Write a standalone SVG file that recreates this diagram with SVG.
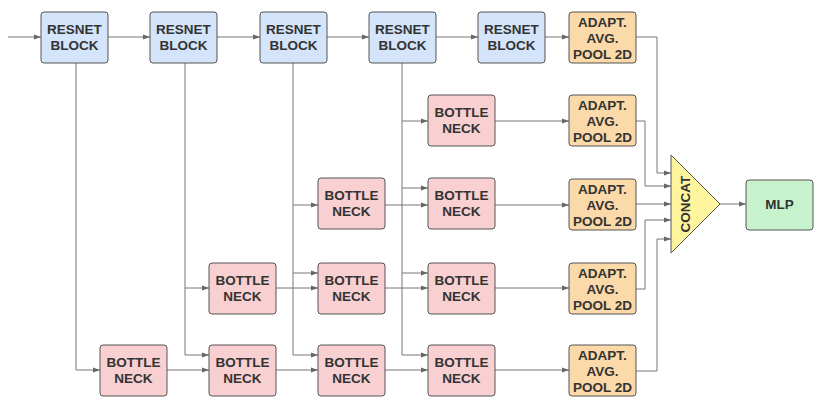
<svg xmlns="http://www.w3.org/2000/svg" width="825" height="408" viewBox="0 0 825 408">
<defs>
<marker id="a" markerWidth="8" markerHeight="6" refX="7" refY="3" orient="auto" markerUnits="userSpaceOnUse"><path d="M0,0.5 L7,3 L0,5.5 z" fill="#666"/></marker>
<style>
.b{stroke:#555;stroke-width:1}
.r{fill:#d3e4fb}.n{fill:#f8d0d1}.p{fill:#fbd9a8}.m{fill:#c6f3cc}
text{font-family:"Liberation Sans",Arial,sans-serif;font-weight:bold;font-size:13.5px;fill:#333;text-anchor:middle}
.c path{fill:none;stroke:#777;stroke-width:1;marker-end:url(#a)}
</style>
</defs>
<rect width="825" height="408" fill="#fff"/>
<g class="c">
<path d="M8,37H41"/><path d="M108,37H150"/><path d="M217,37H260"/><path d="M327,37H369"/><path d="M436,37H478"/><path d="M545,37H569"/>
<path d="M76,63V370H100"/>
<path d="M185,63V288H209"/><path d="M185,288V355H209"/>
<path d="M167,370H209"/>
<path d="M293,63V205H318"/><path d="M293,205V273H318"/><path d="M293,273V355H318"/>
<path d="M276,288H318"/><path d="M276,370H318"/>
<path d="M402,63V121H428"/><path d="M402,121V188H428"/><path d="M402,188V273H428"/><path d="M402,273V355H428"/>
<path d="M385,205H428"/><path d="M385,288H428"/><path d="M385,370H428"/>
<path d="M495,121H569"/><path d="M495,205H569"/><path d="M495,288H569"/><path d="M495,370H569"/>
<path d="M636,37H657V173H671"/><path d="M636,121H645V186H671"/><path d="M636,204H671"/><path d="M636,289H645V220H671"/><path d="M636,371H657V239H671"/>
<path d="M720,204H746"/>
</g>
<g id="resnet1"><rect class="b r" x="41" y="12" width="67" height="51" rx="3"/><text x="74.5" y="34">RESNET</text><text x="74.5" y="50">BLOCK</text></g>
<g id="resnet2"><rect class="b r" x="150" y="12" width="67" height="51" rx="3"/><text x="183.5" y="34">RESNET</text><text x="183.5" y="50">BLOCK</text></g>
<g id="resnet3"><rect class="b r" x="260" y="12" width="67" height="51" rx="3"/><text x="293.5" y="34">RESNET</text><text x="293.5" y="50">BLOCK</text></g>
<g id="resnet4"><rect class="b r" x="369" y="12" width="67" height="51" rx="3"/><text x="402.5" y="34">RESNET</text><text x="402.5" y="50">BLOCK</text></g>
<g id="resnet5"><rect class="b r" x="478" y="12" width="67" height="51" rx="3"/><text x="511.5" y="34">RESNET</text><text x="511.5" y="50">BLOCK</text></g>
<g id="bn-1-4"><rect class="b n" x="428" y="95" width="67" height="51" rx="3"/><text x="461.5" y="117">BOTTLE</text><text x="461.5" y="133">NECK</text></g>
<g id="bn-2-3"><rect class="b n" x="318" y="178" width="67" height="51" rx="3"/><text x="351.5" y="200">BOTTLE</text><text x="351.5" y="216">NECK</text></g>
<g id="bn-2-4"><rect class="b n" x="428" y="178" width="67" height="51" rx="3"/><text x="461.5" y="200">BOTTLE</text><text x="461.5" y="216">NECK</text></g>
<g id="bn-3-2"><rect class="b n" x="209" y="263" width="67" height="51" rx="3"/><text x="242.5" y="285">BOTTLE</text><text x="242.5" y="301">NECK</text></g>
<g id="bn-3-3"><rect class="b n" x="318" y="263" width="67" height="51" rx="3"/><text x="351.5" y="285">BOTTLE</text><text x="351.5" y="301">NECK</text></g>
<g id="bn-3-4"><rect class="b n" x="428" y="263" width="67" height="51" rx="3"/><text x="461.5" y="285">BOTTLE</text><text x="461.5" y="301">NECK</text></g>
<g id="bn-4-1"><rect class="b n" x="100" y="345" width="67" height="51" rx="3"/><text x="133.5" y="367">BOTTLE</text><text x="133.5" y="383">NECK</text></g>
<g id="bn-4-2"><rect class="b n" x="209" y="345" width="67" height="51" rx="3"/><text x="242.5" y="367">BOTTLE</text><text x="242.5" y="383">NECK</text></g>
<g id="bn-4-3"><rect class="b n" x="318" y="345" width="67" height="51" rx="3"/><text x="351.5" y="367">BOTTLE</text><text x="351.5" y="383">NECK</text></g>
<g id="bn-4-4"><rect class="b n" x="428" y="345" width="67" height="51" rx="3"/><text x="461.5" y="367">BOTTLE</text><text x="461.5" y="383">NECK</text></g>
<g id="pool0"><rect class="b p" x="569" y="12" width="67" height="51" rx="3"/><text x="602.5" y="27">ADAPT.</text><text x="602.5" y="43">AVG.</text><text x="602.5" y="59">POOL 2D</text></g>
<g id="pool1"><rect class="b p" x="569" y="95" width="67" height="51" rx="3"/><text x="602.5" y="110">ADAPT.</text><text x="602.5" y="126">AVG.</text><text x="602.5" y="142">POOL 2D</text></g>
<g id="pool2"><rect class="b p" x="569" y="179" width="67" height="51" rx="3"/><text x="602.5" y="194">ADAPT.</text><text x="602.5" y="210">AVG.</text><text x="602.5" y="226">POOL 2D</text></g>
<g id="pool3"><rect class="b p" x="569" y="263" width="67" height="51" rx="3"/><text x="602.5" y="278">ADAPT.</text><text x="602.5" y="294">AVG.</text><text x="602.5" y="310">POOL 2D</text></g>
<g id="pool4"><rect class="b p" x="569" y="345" width="67" height="51" rx="3"/><text x="602.5" y="360">ADAPT.</text><text x="602.5" y="376">AVG.</text><text x="602.5" y="392">POOL 2D</text></g>
<g id="concat"><path class="b" d="M671,155L720,204L671,253Z" fill="#fff59e" stroke-linejoin="round"/><text transform="translate(685,204) rotate(-90)" y="5">CONCAT</text></g>
<g id="mlp"><rect class="b m" x="746" y="180" width="67" height="50" rx="3"/><text x="779.5" y="209">MLP</text></g>
</svg>
